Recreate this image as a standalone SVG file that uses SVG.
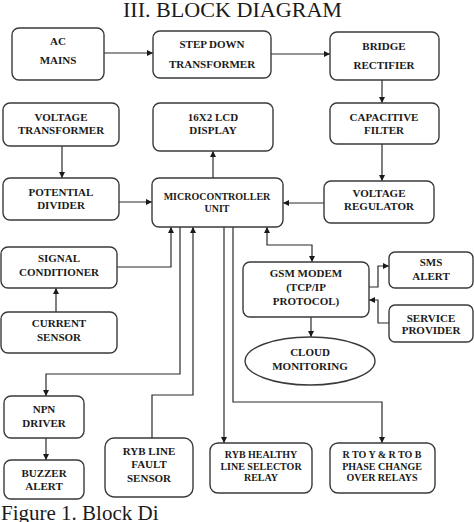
<svg xmlns="http://www.w3.org/2000/svg" width="474" height="522" viewBox="0 0 474 522">
<style>
.b{fill:#fff;stroke:#3a3a3a;stroke-width:1.4}
.t{font-family:"Liberation Serif","Times New Roman",serif;font-weight:bold;font-size:11px;fill:#1a1a1a;text-anchor:middle}
.s{font-size:10px}
.c{fill:none;stroke:#2a2a2a;stroke-width:1.2}
.h{font-family:"Liberation Serif","Times New Roman",serif;font-size:21px;fill:#1a1a1a}
</style>
<defs>
<marker id="a" viewBox="0 0 8 8" refX="8" refY="4" markerWidth="6" markerHeight="6" orient="auto-start-reverse" markerUnits="userSpaceOnUse">
<path d="M0,0 L8,4 L0,8 z" fill="#1a1a1a"/>
</marker>
</defs>
<rect width="474" height="522" fill="#fff"/>
<text class="h" x="123" y="17" textLength="219" lengthAdjust="spacingAndGlyphs">III. BLOCK  DIAGRAM</text>

<g id="connectors" class="c">
<path d="M104,53 H153" marker-end="url(#a)"/>
<path d="M271,54 H330" marker-end="url(#a)"/>
<path d="M382,80 V103" marker-end="url(#a)"/>
<path d="M382,144 V181" marker-end="url(#a)"/>
<path d="M324,203 H283" marker-end="url(#a)"/>
<path d="M119,202 H152" marker-end="url(#a)"/>
<path d="M62,146 V178" marker-end="url(#a)"/>
<path d="M213,178 V151" marker-end="url(#a)"/>
<path d="M117,267 H171 V227" marker-end="url(#a)"/>
<path d="M56,312 V288" marker-end="url(#a)"/>
<path d="M180,227 V374 H46 V396" marker-end="url(#a)"/>
<path d="M46,438 V460" marker-end="url(#a)"/>
<path d="M152,438 V395 H193 V227" marker-end="url(#a)"/>
<path d="M224,227 V443" marker-end="url(#a)"/>
<path d="M233,227 V402 H382 V443" marker-end="url(#a)"/>
<path d="M267,227 V245 H312 V262" marker-start="url(#a)" marker-end="url(#a)"/>
<path d="M369,287 H378 V266 H389" marker-end="url(#a)"/>
<path d="M389,323 H378 V300 H369" marker-end="url(#a)"/>
<path d="M311,317 V337" marker-end="url(#a)"/>
</g>

<g id="ac"><rect class="b" x="12" y="28" width="92" height="52" rx="7"/><text class="t" x="58" y="45">AC</text><text class="t" x="58" y="64">MAINS</text></g>
<g id="stepdown"><rect class="b" x="153" y="31" width="118" height="47" rx="7"/><text class="t" x="212" y="48">STEP DOWN</text><text class="t" x="212" y="68">TRANSFORMER</text></g>
<g id="bridge"><rect class="b" x="330" y="32" width="109" height="48" rx="7"/><text class="t" x="384" y="50">BRIDGE</text><text class="t" x="384" y="69">RECTIFIER</text></g>
<g id="vtrans"><rect class="b" x="3" y="103" width="116" height="43" rx="7"/><text class="t" x="61" y="121">VOLTAGE</text><text class="t" x="61" y="134">TRANSFORMER</text></g>
<g id="lcd"><rect class="b" x="153" y="103" width="120" height="48" rx="7"/><text class="t" x="213" y="121">16X2 LCD</text><text class="t" x="213" y="134">DISPLAY</text></g>
<g id="capfilter"><rect class="b" x="330" y="103" width="109" height="41" rx="7"/><text class="t" x="384" y="121">CAPACITIVE</text><text class="t" x="384" y="134">FILTER</text></g>
<g id="potdiv"><rect class="b" x="3" y="178" width="116" height="42" rx="7"/><text class="t" x="61" y="196">POTENTIAL</text><text class="t" x="61" y="209">DIVIDER</text></g>
<g id="mcu"><rect class="b" x="152" y="178" width="131" height="49" rx="7"/><text class="t s" x="217" y="200">MICROCONTROLLER</text><text class="t s" x="217" y="212">UNIT</text></g>
<g id="vreg"><rect class="b" x="324" y="181" width="110" height="42" rx="7"/><text class="t" x="379" y="197">VOLTAGE</text><text class="t" x="379" y="210">REGULATOR</text></g>
<g id="sigcond"><rect class="b" x="1" y="247" width="116" height="41" rx="7"/><text class="t" x="59" y="262">SIGNAL</text><text class="t" x="59" y="276">CONDITIONER</text></g>
<g id="cursensor"><rect class="b" x="1" y="312" width="116" height="41" rx="7"/><text class="t" x="59" y="327">CURRENT</text><text class="t" x="59" y="341">SENSOR</text></g>
<g id="gsm"><rect class="b" x="243" y="262" width="126" height="55" rx="7"/><text class="t" x="306" y="277">GSM MODEM</text><text class="t" x="306" y="291">(TCP/IP</text><text class="t" x="306" y="305">PROTOCOL)</text></g>
<g id="sms"><rect class="b" x="389" y="252" width="84" height="36" rx="6"/><text class="t" x="431" y="266">SMS</text><text class="t" x="431" y="280">ALERT</text></g>
<g id="service"><rect class="b" x="389" y="305" width="84" height="37" rx="6"/><text class="t" x="431" y="322">SERVICE</text><text class="t" x="431" y="334">PROVIDER</text></g>
<g id="cloud"><ellipse class="b" cx="310" cy="361" rx="65" ry="24"/><text class="t" x="310" y="356">CLOUD</text><text class="t" x="310" y="370">MONITORING</text></g>
<g id="npn"><rect class="b" x="4" y="396" width="80" height="42" rx="7"/><text class="t" x="44" y="413">NPN</text><text class="t" x="44" y="427">DRIVER</text></g>
<g id="buzzer"><rect class="b" x="4" y="460" width="80" height="39" rx="7"/><text class="t" x="44" y="477">BUZZER</text><text class="t" x="44" y="490">ALERT</text></g>
<g id="rybfault"><rect class="b" x="105" y="438" width="88" height="59" rx="9"/><text class="t" x="149" y="455">RYB LINE</text><text class="t" x="149" y="468">FAULT</text><text class="t" x="149" y="482">SENSOR</text></g>
<g id="rybhealthy"><rect class="b" x="210" y="443" width="102" height="50" rx="8"/><text class="t s" x="261" y="458">RYB HEALTHY</text><text class="t s" x="261" y="470">LINE SELECTOR</text><text class="t s" x="261" y="481">RELAY</text></g>
<g id="phasechange"><rect class="b" x="330" y="443" width="105" height="50" rx="8"/><text class="t s" x="382" y="458">R TO Y &amp; R TO B</text><text class="t s" x="382" y="470">PHASE CHANGE</text><text class="t s" x="382" y="481">OVER RELAYS</text></g>

<text class="h" x="1" y="520" font-size="18">Figure 1. Block Di</text>
</svg>
